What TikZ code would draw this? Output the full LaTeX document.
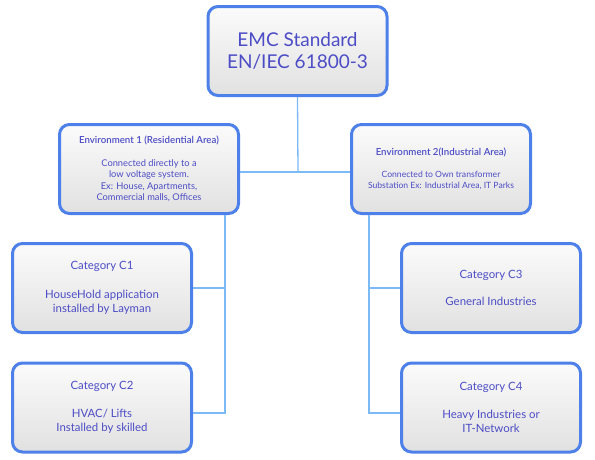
\documentclass[tikz,border=0pt]{standalone}
\usepackage{fontspec}
\setmainfont{Lato}
\IfFontExistsTF{Lato Semibold}{\newfontfamily\semib{Lato Semibold}}{\newfontfamily\semib{Lato}}
\definecolor{boxline}{RGB}{77,128,232}
\definecolor{boxtext}{RGB}{76,76,198}
\definecolor{linkline}{RGB}{124,185,247}
\definecolor{shadetop}{RGB}{251,251,251}
\definecolor{shadebot}{RGB}{226,225,225}
\tikzset{
  stdbox/.style={draw=boxline, line width=3pt, rounded corners=10pt,
    top color=shadetop, bottom color=shadebot, text=boxtext,
    minimum width=179pt, minimum height=89pt, align=center, inner sep=2pt},
  link/.style={draw=linkline, line width=1.3pt}
}
\begin{document}
\begin{tikzpicture}[x=1pt,y=-1pt]
            \useasboundingbox (0,0) rectangle (595,459);

            % boxes
            \node[stdbox, font=\fontsize{19}{22.4}\selectfont] (std) at (297.5,51) {EMC Standard\\ EN/IEC 61800-3};
            \node[stdbox, font=\fontsize{9.3}{11.3}\selectfont] (env1) at (149,169) {{\semib\fontsize{9.7}{11.3}\selectfont Environment 1 (Residential Area)}\\[11.5pt]
                Connected directly to a\\ low voltage system.\\ Ex: House, Apartments,\\ Commercial malls, Offices};
            \node[stdbox, font=\fontsize{8.6}{11.3}\selectfont] (env2) at (441,169) {{\semib\fontsize{9.7}{11.3}\selectfont Environment 2(Industrial Area)}\\[10.3pt]
                Connected to Own transformer\\ Substation Ex: Industrial Area, IT Parks};
            \node[stdbox, font=\fontsize{11.4}{14.3}\selectfont] (c1) at (102,288) {Category C1\\[14pt] HouseHold application\\ installed by Layman};
            \node[stdbox, font=\fontsize{11.4}{14.3}\selectfont] (c2) at (102,407.5) {Category C2\\[14pt] HVAC/ Lifts\\ Installed by skilled};
            \node[stdbox, font=\fontsize{11.4}{14.3}\selectfont] (c3) at (491,288) {Category C3\\[12.4pt] General Industries};
            \node[stdbox, font=\fontsize{11.4}{14.3}\selectfont] (c4) at (491,407.5) {Category C4\\[14pt] Heavy Industries or\\ IT-Network};

            % junction points
            \coordinate (jt) at (298,172);
            \coordinate (lb) at (225,413);
            \coordinate (rb) at (369,413);

            % connectors
            \draw[link] (std.south) -- (jt);
            \draw[link] (env1.east |- jt) -- (env2.west |- jt);
            \draw[link] (env1.south -| lb) -- (lb) -- (c2.east |- lb);
            \draw[link] (c1.east) -- (c1.east -| lb);
            \draw[link] (env2.south -| rb) -- (rb) -- (c4.west |- rb);
            \draw[link] (c3.west) -- (c3.west -| rb);
        \end{tikzpicture}
\end{document}
